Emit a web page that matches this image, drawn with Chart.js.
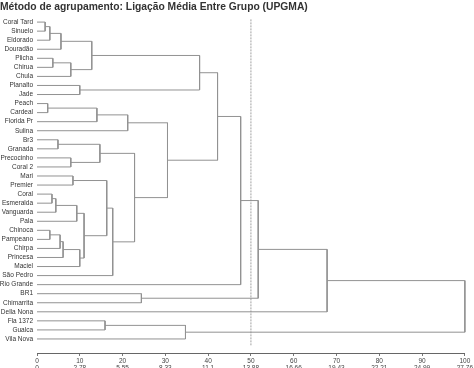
<!DOCTYPE html>
<html>
<head>
<meta charset="utf-8">
<script src="https://cdn.jsdelivr.net/npm/chart.js@4.4.1/dist/chart.umd.min.js"></script>
<style>
  html, body { margin: 0; padding: 0; background: #fff; overflow: hidden; }
  #wrap { position: relative; width: 474px; height: 374px; }
</style>
</head>
<body>
<div id="wrap"><canvas id="chart"></canvas></div>
<script>
// ── Dendrogram (UPGMA) ──

const leaves = [
  'Coral Tard', 'Sinuelo', 'Eldorado', 'Douradão', 'Plicha', 'Chirua', 'Chula',
  'Planalto', 'Jade', 'Peach', 'Cardeal', 'Florida Pr', 'Sulina', 'Br3', 'Granada',
  'Precocinho', 'Coral 2', 'Mari', 'Premier', 'Coral', 'Esmeralda', 'Vanguarda',
  'Pala', 'Chinoca', 'Pampeano', 'Chirpa', 'Princesa', 'Maciel', 'São Pedro',
  'Rio Grande', 'BR1', 'Chimarrita', 'Della Nona', 'Fla 1372', 'Gualca', 'Vila Nova'
];

// merges: ids < 36 are leaves, id 36 + k is the cluster made by merge k
const mergeLeft   = [0, 36, 37, 4, 39, 38, 7, 41, 9, 44, 45, 13, 15, 47, 17, 19, 51, 52, 23, 54, 55, 56, 53, 50, 59, 49, 46, 43, 63, 30, 64, 66, 33, 68, 67];
const mergeRight  = [1, 2, 3, 5, 6, 40, 8, 42, 10, 11, 12, 14, 16, 48, 18, 20, 21, 22, 24, 25, 26, 27, 57, 58, 28, 60, 61, 62, 29, 31, 65, 32, 34, 35, 69];
const mergeHeight = [1.9, 3.0, 5.6, 3.7, 7.9, 12.8, 10.0, 38.0, 2.5, 14.0, 21.2, 4.9, 7.9, 14.7, 8.4, 3.5, 4.4, 9.3, 3.0, 5.4, 6.1, 10.0, 11.0, 16.3, 17.7, 22.8, 30.5, 42.2, 47.6, 24.4, 51.7, 67.8, 15.9, 34.7, 100];

const cutLevel = 50;
const xTickTop = [0, 10, 20, 30, 40, 50, 60, 70, 80, 90, 100];
const xTickBottom = ['0', '2.78', '5.55', '8.33', '11.1', '13.88', '16.66', '19.43', '22.21', '24.99', '27.76'];

// node positions
const nodeX = leaves.map(() => 0);
const nodeY = leaves.map((_, i) => i);
const datasets = [];

mergeLeft.forEach((a, k) => {
  const b = mergeRight[k];
  const h = mergeHeight[k];
  datasets.push({
    data: [
      { x: nodeX[a], y: nodeY[a] },
      { x: h, y: nodeY[a] },
      { x: h, y: nodeY[b] },
      { x: nodeX[b], y: nodeY[b] }
    ],
    borderColor: '#929292',
    borderWidth: 1,
    pointRadius: 0,
    showLine: true,
    tension: 0,
    clip: false
  });
  nodeX.push(h);
  nodeY.push((nodeY[a] + nodeY[b]) / 2);
});

// cut line
datasets.push({
  data: [{ x: cutLevel, y: -0.3 }, { x: cutLevel, y: 35.7 }],
  borderColor: '#a0a0a0',
  borderWidth: 1,
  borderDash: [2, 1],
  pointRadius: 0,
  showLine: true,
  clip: false
});

const font = { family: 'Liberation Sans', size: 6.5 };

new Chart(document.getElementById('chart'), {
  type: 'scatter',
  data: { datasets },
  options: {
    responsive: true,
    maintainAspectRatio: false,
    animation: false,
    layout: { padding: { left: 0, right: 7.5, top: 0, bottom: 0 } },
    plugins: {
      legend: { display: false },
      tooltip: { enabled: false },
      title: {
        display: true,
        text: 'Método de agrupamento: Ligação Média Entre Grupo (UPGMA)',
        align: 'start',
        color: '#333',
        font: { family: 'Liberation Sans', size: 10.3, weight: 'bold' },
        padding: { top: 1, bottom: 4.2 }
      }
    },
    scales: {
      x: {
        type: 'linear',
        min: 0,
        max: 100,
        afterBuildTicks: axis => { axis.ticks = xTickTop.map(v => ({ value: v })); },
        afterFit: scale => { scale.height = 21; },
        grid: { display: true, drawOnChartArea: false, color: '#777', tickLength: 3 },
        border: { display: true, color: '#666', width: 1 },
        ticks: {
          color: '#444',
          font,
          padding: 1,
          maxRotation: 0,
          autoSkip: false,
          callback: (v) => [String(v), xTickBottom[xTickTop.indexOf(v)]]
        }
      },
      y: {
        type: 'linear',
        reverse: true,
        min: -0.5,
        max: 36.55,
        afterBuildTicks: axis => { axis.ticks = leaves.map((_, i) => ({ value: i })); },
        afterFit: scale => { scale.width = 37; },
        grid: { display: false, drawTicks: false },
        border: { display: false },
        ticks: {
          color: '#333',
          font,
          padding: 4,
          autoSkip: false,
          callback: (v) => leaves[v]
        }
      }
    }
  }
});
</script>
</body>
</html>
